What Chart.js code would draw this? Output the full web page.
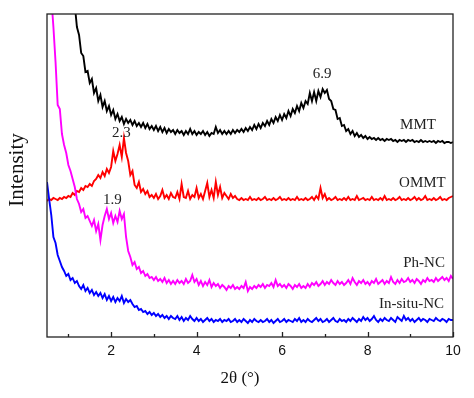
<!DOCTYPE html>
<html>
<head>
<meta charset="utf-8">
<script src="https://cdn.jsdelivr.net/npm/chart.js@4/dist/chart.umd.min.js"></script>
<style>
  html, body { margin: 0; padding: 0; background: #fff; }
  #wrap { width: 474px; height: 398px; }
</style>
</head>
<body>
<div id="wrap"><canvas id="c" width="474" height="398"></canvas></div>
<script>
// ---- data (2θ in degrees, intensity in arbitrary units) ----
const twoTheta = [
  0.5,0.55,0.6,0.65,0.7,0.75,0.8,0.85,0.9,0.95,
  1,1.05,1.1,1.15,1.2,1.25,1.3,1.35,1.4,1.45,
  1.5,1.55,1.6,1.65,1.7,1.75,1.8,1.85,1.9,1.95,
  2,2.05,2.1,2.15,2.2,2.25,2.3,2.35,2.4,2.45,
  2.5,2.55,2.6,2.65,2.7,2.75,2.8,2.85,2.9,2.95,
  3,3.05,3.1,3.15,3.2,3.25,3.3,3.35,3.4,3.45,
  3.5,3.55,3.6,3.65,3.7,3.75,3.8,3.85,3.9,3.95,
  4,4.05,4.1,4.15,4.2,4.25,4.3,4.35,4.4,4.45,
  4.5,4.55,4.6,4.65,4.7,4.75,4.8,4.85,4.9,4.95,
  5,5.05,5.1,5.15,5.2,5.25,5.3,5.35,5.4,5.45,
  5.5,5.55,5.6,5.65,5.7,5.75,5.8,5.85,5.9,5.95,
  6,6.05,6.1,6.15,6.2,6.25,6.3,6.35,6.4,6.45,
  6.5,6.55,6.6,6.65,6.7,6.75,6.8,6.85,6.9,6.95,
  7,7.05,7.1,7.15,7.2,7.25,7.3,7.35,7.4,7.45,
  7.5,7.55,7.6,7.65,7.7,7.75,7.8,7.85,7.9,7.95,
  8,8.05,8.1,8.15,8.2,8.25,8.3,8.35,8.4,8.45,
  8.5,8.55,8.6,8.65,8.7,8.75,8.8,8.85,8.9,8.95,
  9,9.05,9.1,9.15,9.2,9.25,9.3,9.35,9.4,9.45,
  9.5,9.55,9.6,9.65,9.7,9.75,9.8,9.85,9.9,9.95,
  10
];

const mmt = [
  450,450,450,450,450,450,450,450,450,450,
  450,450,370,332,310,302,284,281,265,266,
  254,258,244,249,236,242,230,236,226,231,
  222,227,218,223,216,220,213,218,214,217,
  212,216,211,214,210,214,209,213,208,211,
  207,211,206,210,205,209,204,208,205,207,
  203,207,204,206,202,206,203,208,203,206,
  202,205,203,206,202,205,201,204,203,210,
  204,207,203,206,203,206,203,207,204,207,
  205,208,205,209,206,210,207,212,208,213,
  209,214,211,216,212,218,214,220,216,222,
  217,223,219,226,221,228,224,231,226,234,
  229,236,233,244,236,245,236,246,240,248,
  244,247,238,236,228,227,218,219,211,212,
  206,208,203,206,201,204,200,202,199,201,
  198,200,198,199,197,199,197,198,196,198,
  197,198,196,197,195,197,196,197,195,197,
  196,197,195,196,195,197,195,196,195,196,
  195,196,194,196,195,196,194,195,195,194,
  195
];

const ommt = [
  136,138,137,139,138,137,139,138,140,139,
  141,140,144,142,146,145,149,147,151,150,
  153,151,156,158,162,159,165,161,168,164,
  170,186,176,183,192,180,199,184,176,162,
  166,152,149,155,145,148,143,146,140,142,
  139,143,138,141,147,139,142,138,144,140,
  139,145,138,153,140,139,146,138,142,140,
  149,139,143,138,146,154,140,147,139,155,
  142,150,139,144,141,138,143,139,141,138,
  137,139,137,138,137,140,137,138,137,139,
  137,138,140,137,138,137,139,137,138,140,
  137,138,137,139,137,138,137,140,137,138,
  137,139,137,138,140,137,141,138,149,139,
  143,137,139,137,138,140,137,138,137,139,
  137,140,137,138,137,141,137,138,139,137,
  138,137,140,137,138,137,139,137,141,137,
  138,137,139,137,138,140,137,138,137,139,
  137,138,140,137,139,137,138,141,137,138,
  137,139,137,138,140,137,138,137,139,140,
  141
];

const phNC = [
  420,375,340,310,275,232,228,203,192,184,
  172,166,158,150,138,133,125,128,119,121,
  116,111,117,106,113,97,112,121,128,118,
  124,114,121,115,126,118,123,100,86,80,
  72,75,68,70,64,66,61,63,59,60,
  57,60,56,58,55,59,54,57,53,56,
  53,57,54,56,53,58,54,56,62,55,
  58,52,56,51,55,52,57,50,54,51,
  53,49,52,50,47,51,49,52,48,50,
  48,51,49,55,46,50,48,51,49,52,
  50,53,49,52,51,54,50,57,51,53,
  50,52,49,53,51,48,52,50,53,49,
  51,49,53,50,54,52,55,51,53,56,
  52,55,53,57,54,52,56,53,55,52,
  54,57,53,59,55,52,56,54,57,53,
  55,52,56,54,58,53,55,57,53,56,
  54,60,55,53,57,54,58,55,56,59,
  55,57,54,58,56,53,57,55,59,56,
  57,55,59,56,58,60,57,59,56,61,
  58
];

const inSituNC = [
  155,138,122,100,94,82,76,70,66,61,
  63,57,59,54,56,51,48,52,46,49,
  44,47,42,45,41,44,39,43,37,41,
  36,40,35,39,36,41,34,38,35,37,
  33,30,31,27,28,25,26,23,25,22,
  24,21,23,20,22,19,21,18,21,19,
  18,21,17,20,16,19,17,21,18,16,
  19,16,18,15,17,19,16,18,15,17,
  16,18,15,17,16,18,15,16,18,15,
  17,15,18,16,14,17,15,18,16,15,
  17,15,16,18,15,17,14,16,18,15,
  16,18,15,17,16,15,18,16,19,15,
  17,15,18,16,15,17,19,16,18,15,
  16,18,15,17,19,16,15,18,16,17,
  15,18,16,19,17,15,18,16,20,17,
  19,16,18,21,17,15,18,16,19,17,
  16,19,17,15,20,18,16,21,17,19,
  16,18,15,17,19,16,18,17,15,18,
  17,16,19,17,16,18,17,15,18,17,
  17
];

const seriesNames = ['MMT', 'OMMT', 'Ph-NC', 'In-situ-NC'];
const seriesColors = ['#000000', '#ff0000', '#ff00ff', '#0000ff'];
const xTickValues = [2, 4, 6, 8, 10];
const xMinorTickValues = [1, 3, 5, 7, 9];
const peakLabels = ['6.9', '2.3', '1.9'];

// annotation placement (data coordinates)
const peakLabelPos = [ {x: 6.94, y: 263}, {x: 2.24, y: 204}, {x: 2.03, y: 137} ];
const seriesLabelPos = [ {x: 9.60, y: 212}, {x: 9.83, y: 154}, {x: 9.81, y: 74}, {x: 9.79, y: 33} ];

const seriesValues = [mmt, ommt, phNC, inSituNC];
seriesValues.forEach((s, k) => { if (s.length !== twoTheta.length) console.error('length mismatch', seriesNames[k], s.length); });

const datasets = seriesValues.map((vals, k) => ({
  label: seriesNames[k],
  data: twoTheta.map((x, i) => ({ x: x, y: vals[i] })),
  borderColor: seriesColors[k],
  backgroundColor: seriesColors[k],
  borderWidth: 1.9,
  pointRadius: 0,
  tension: 0,
  fill: false
})).reverse();

const decor = {
  id: 'decor',
  afterDraw(chart) {
    const ctx = chart.ctx;
    const a = chart.chartArea;
    const xs = chart.scales.x, ys = chart.scales.y;
    ctx.save();
    // frame
    ctx.strokeStyle = '#222';
    ctx.lineWidth = 1.3;
    ctx.strokeRect(a.left, a.top, a.right - a.left, a.bottom - a.top);
    // inward ticks on bottom axis
    ctx.beginPath();
    xTickValues.forEach(v => {
      const px = Math.round(xs.getPixelForValue(v)) + 0.5;
      ctx.moveTo(px, a.bottom); ctx.lineTo(px, a.bottom - 5);
    });
    xMinorTickValues.forEach(v => {
      const px = Math.round(xs.getPixelForValue(v)) + 0.5;
      ctx.moveTo(px, a.bottom); ctx.lineTo(px, a.bottom - 3);
    });
    ctx.stroke();
    // axis titles
    ctx.fillStyle = '#111';
    ctx.font = '17px "Liberation Serif", "Times New Roman", serif';
    ctx.textAlign = 'center';
    ctx.textBaseline = 'middle';
    ctx.fillText('2θ (°)', 240, 379);
    ctx.save();
    ctx.translate(17, 170);
    ctx.rotate(-Math.PI / 2);
    ctx.font = '21px "Liberation Serif", "Times New Roman", serif';
    ctx.fillText('Intensity', 0, 0);
    ctx.restore();
    // peak labels
    ctx.font = '15px "Liberation Serif", "Times New Roman", serif';
    ctx.fillStyle = '#222';
    ctx.textAlign = 'center';
    peakLabels.forEach((t, i) => {
      ctx.fillText(t, xs.getPixelForValue(peakLabelPos[i].x), ys.getPixelForValue(peakLabelPos[i].y));
    });
    // series labels
    ctx.textAlign = 'right';
    seriesNames.forEach((t, i) => {
      ctx.fillText(t, xs.getPixelForValue(seriesLabelPos[i].x), ys.getPixelForValue(seriesLabelPos[i].y));
    });
    ctx.restore();
  }
};

new Chart(document.getElementById('c'), {
  type: 'line',
  data: { datasets: datasets },
  options: {
    responsive: false,
    animation: false,
    devicePixelRatio: 1,
    layout: { padding: { top: 14, right: 21, left: 0, bottom: 0 } },
    plugins: { legend: { display: false }, tooltip: { enabled: false } },
    scales: {
      x: {
        type: 'linear', min: 0.5, max: 10,
        grid: { display: false, drawTicks: false },
        border: { display: false },
        ticks: { font: { family: '"Liberation Sans", Arial, sans-serif', size: 14 }, color: '#111', padding: 6, maxRotation: 0 },
        afterBuildTicks: s => { s.ticks = xTickValues.map(v => ({ value: v })); },
        afterFit: s => { s.height = 61; }
      },
      y: {
        type: 'linear', min: 0, max: 323,
        grid: { display: false, drawTicks: false },
        border: { display: false },
        ticks: { display: false },
        afterFit: s => { s.width = 47; }
      }
    }
  },
  plugins: [decor]
});
</script>
</body>
</html>
